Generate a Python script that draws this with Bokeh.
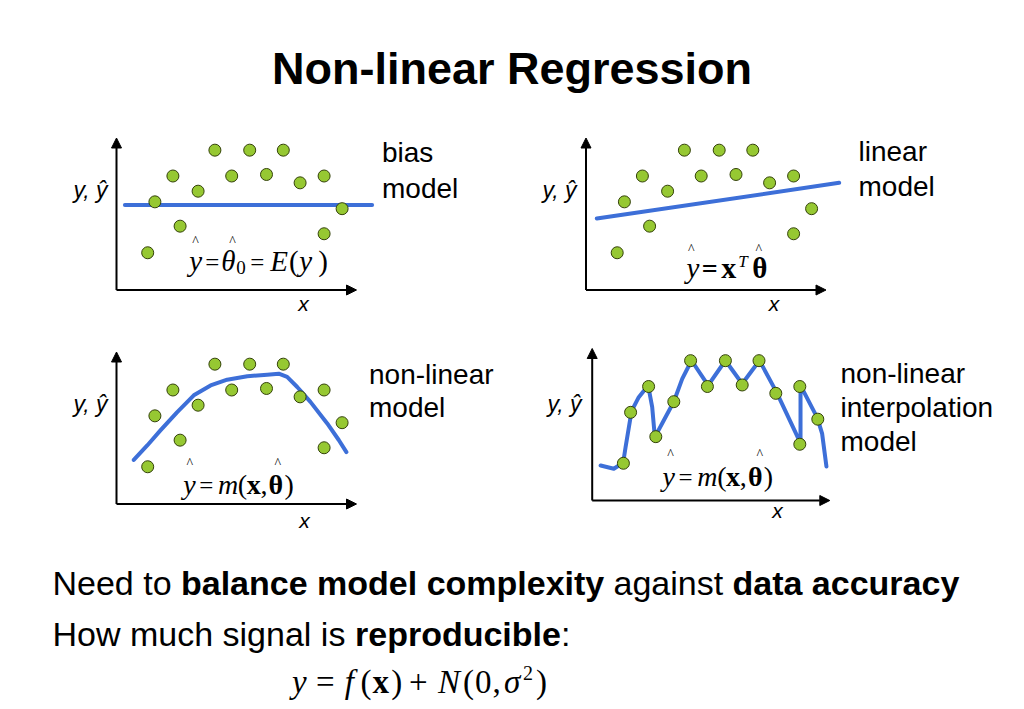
from bokeh.plotting import figure
from bokeh.models import Range1d, Arrow, NormalHead
from bokeh.core.properties import value
from bokeh.embed import file_html
from bokeh.resources import INLINE

# ---------------- data (panel-local units, axes run 0..10) ----------------
pts_x = [1.3, 1.6, 2.35, 2.65, 3.4, 4.1, 4.8, 5.55, 6.25, 6.95, 7.65, 8.65, 8.65, 9.4]
pts_y = [2.45, 5.8, 7.5, 4.2, 6.5, 9.2, 7.5, 9.2, 7.6, 9.2, 7.05, 7.5, 3.7, 5.35]

bias_x = [0.35, 10.65]
bias_y = [5.6, 5.6]

lin_x = [0.45, 10.55]
lin_y = [4.7, 7.05]

nl_x = [0.72, 1.28, 1.83, 2.53, 3.22, 3.92, 4.61, 5.45, 6.28, 6.76, 7.11, 7.53, 8.08, 8.78, 9.26, 9.58]
nl_y = [2.90, 3.85, 4.84, 6.05, 7.15, 7.80, 8.18, 8.40, 8.51, 8.57, 8.36, 7.70, 6.72, 5.30, 4.21, 3.41]

interp_x = [0.35, 0.90, 1.29, 1.39, 1.64, 1.94, 2.33, 2.50, 2.61, 2.98, 3.40, 3.75, 4.14,
            4.83, 5.55, 6.25, 6.97, 7.68, 8.68, 8.68, 9.38, 9.58, 9.76]
interp_y = [2.30, 2.09, 2.48, 3.50, 5.88, 6.80, 7.57, 6.14, 4.17, 5.26, 6.50, 8.00, 9.21,
            7.57, 9.21, 7.68, 9.21, 7.13, 3.77, 7.57, 5.44, 4.40, 2.24]

panel_labels = [["bias", "model"], ["linear", "model"],
                ["non-linear", "model"], ["non-linear", "interpolation", "model"]]

# ---------------- layout ----------------
W, H = 1024, 709
PAGE_L, PAGE_R, PAGE_T, PAGE_B = 0, W, 0, H
SX, SY = 24.0, 15.2          # px per panel unit
origins = [(116, 289.5), (585.5, 289.5), (116, 503.5), (591.7, 500.0)]
BASE_K = 0.33                 # baseline correction (fraction of font size)

BLUE = "#3d6fd8"
GREEN = "#96c832"
DARK = "#34420a"
SANS = value("Liberation Sans")
SERIF = value("Liberation Serif")

p = figure(width=W, height=H, output_backend="svg", toolbar_location=None,
           x_range=Range1d(PAGE_L, PAGE_R), y_range=Range1d(PAGE_B, PAGE_T),
           x_axis_type=None, y_axis_type=None, min_border=0)
p.outline_line_color = None
p.background_fill_color = "white"
p.border_fill_color = "white"

for i, (ox, oy) in enumerate(origins):
    xn, yn = f"px{i}", f"py{i}"
    p.extra_x_ranges[xn] = Range1d((PAGE_L - ox) / SX, (PAGE_R - ox) / SX)
    p.extra_y_ranges[yn] = Range1d((oy - PAGE_B) / SY, (oy - PAGE_T) / SY)
    xe = 9.9 if i == 3 else 10.0
    for (x0, y0, x1, y1) in [(0, 0, xe, 0), (0, 0, 0, 10.0)]:
        p.add_layout(Arrow(x_start=x0, y_start=y0, x_end=x1, y_end=y1,
                           x_range_name=xn, y_range_name=yn, line_width=2,
                           line_color="black",
                           end=NormalHead(size=10, fill_color="black", line_color="black")))
    if i == 0:
        lx, ly = bias_x, bias_y
    elif i == 1:
        lx, ly = lin_x, lin_y
    elif i == 2:
        lx, ly = nl_x, nl_y
    else:
        lx, ly = interp_x, interp_y
    p.line(lx, ly, x_range_name=xn, y_range_name=yn, line_color=BLUE,
           line_width=4, line_join="round", line_cap="round")
    p.scatter(pts_x, pts_y, x_range_name=xn, y_range_name=yn, size=12,
              fill_color=GREEN, line_color=DARK, line_width=1)


def txt(x, y, s, size, font=SANS, style="normal", align="left"):
    p.text(x=[x], y=[y - BASE_K * size], text=[s], text_font=font,
           text_font_size=f"{size}px", text_font_style=style, text_align=align,
           text_baseline="alphabetic", text_color="black")


# title
txt(511.5, 83, "Non-linear Regression", 45, style="bold", align="center")

# panel labels
label_pos = [(381.5, 161.5, 36), (858, 160, 35.5), (368.5, 383, 33), (840, 382, 34)]
for (lxp, lyp, dy), lines in zip(label_pos, panel_labels):
    for k, s in enumerate(lines):
        txt(lxp, lyp + k * dy, s, 28)

# axis labels
for (xx, yy) in [(107, 197.5), (576, 197.5), (107, 411.5), (581, 411.5)]:
    txt(xx, yy, "y, ŷ", 23, style="italic", align="right")
for (xx, yy) in [(303, 310), (773.5, 310), (304, 526.5), (777, 516.5)]:
    txt(xx, yy, "x", 21, style="italic", align="center")


def hat(xc, yc):
    txt(xc, yc + 4, "^", 14, font=SERIF, align="center")


def glyphs(items, base):
    # items: (center x, text, style, size, baseline shift)
    for xx, s, st, sz, dyb in items:
        txt(xx, base + dyb, s, sz, font=SERIF, style=st, align="center")


# panel 1 formula
glyphs([(195.2, "y", "italic", 29, 0), (211.7, "=", "normal", 25, 0),
        (227.8, "θ", "italic", 29, 0), (240.5, "0", "normal", 19, 3),
        (256.7, "=", "normal", 25, 0), (278.5, "E", "italic", 29, 0),
        (293.3, "(", "normal", 29, 0), (305.3, "y", "italic", 29, 0),
        (322.5, ")", "normal", 29, 0)], 270)
hat(195, 241.7)
hat(232, 241.7)

# panel 2 formula
glyphs([(692.5, "y", "italic", 29, 0), (709.2, "=", "bold", 28, 0),
        (728.3, "x", "bold", 30, 0), (742.5, "T", "italic", 17, -11),
        (759.2, "θ", "bold", 29, 0)], 277.3)
hat(690.7, 250)
hat(758.3, 250)

# panel 3 & 4 formulas
for s0, bb, hats in [(184, 493.3, [(189.3, 464), (277.3, 463.5)]),
                     (663.3, 485.7, [(670, 455), (759.3, 455)])]:
    glyphs([(s0 + 5, "y", "italic", 28, 0), (s0 + 21.7, "=", "normal", 25, 0),
            (s0 + 43.5, "m", "italic", 28, 0), (s0 + 58, "(", "normal", 28, 0),
            (s0 + 69.3, "x", "bold", 28, 0), (s0 + 79.5, ",", "normal", 28, 0),
            (s0 + 91.4, "θ", "bold", 28, 0), (s0 + 104.6, ")", "normal", 28, 0)], bb)
    for hx, hy in hats:
        hat(hx, hy)

# bottom text
y1, y2 = 594, 645
for xx, s, st in [(52, "Need to", "normal"), (180.5, "balance model complexity", "bold"),
                  (613, "against", "normal"), (732, "data accuracy", "bold")]:
    txt(xx, y1, s, 34, style=st)
for xx, s, st in [(52, "How much signal is", "normal"), (354.5, "reproducible", "bold"),
                  (560.5, ":", "normal")]:
    txt(xx, y2, s, 34, style=st)

# bottom formula
bf, sf = 692, 291.5
for dx, s, st, sz, dyb in [(0, "y", "italic", 33, 0), (24, "=", "normal", 33, 0),
                           (52.8, "f", "italic", 33, 0), (68.6, "(", "normal", 33, 0),
                           (80.5, "x", "bold", 33, 0), (99.3, ")", "normal", 33, 0),
                           (117, "+", "normal", 33, 0), (146, "N", "italic", 33, 0),
                           (171, "(", "normal", 33, 0), (183, "0", "normal", 33, 0),
                           (200.5, ",", "normal", 33, 0), (212, "σ", "italic", 33, 0),
                           (231, "2", "normal", 20, -13), (244, ")", "normal", 33, 0)]:
    txt(sf + dx, bf + dyb, s, sz, font=SERIF, style=st)

open("out.html", "w").write(file_html(p, INLINE))
